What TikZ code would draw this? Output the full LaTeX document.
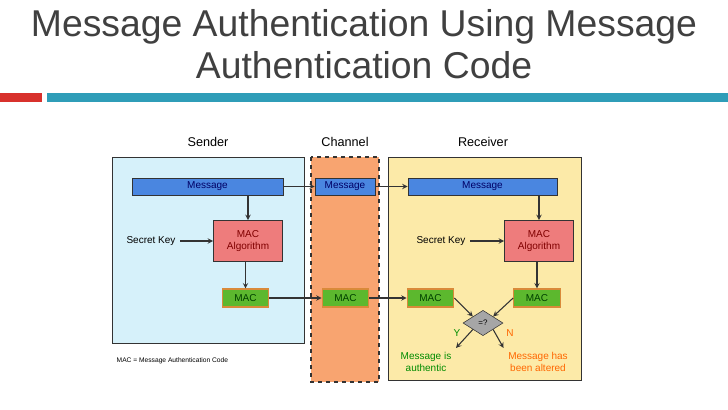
\documentclass[tikz,border=0pt]{standalone}
\usepackage{fontspec}
\setmainfont{Liberation Sans}
\usepackage{tikz}
\usetikzlibrary{shapes.geometric,arrows,positioning}
\definecolor{sendbg}{HTML}{D6F1FA}
\definecolor{chanbg}{HTML}{F8A470}
\definecolor{recvbg}{HTML}{FCEAA8}
\definecolor{msgblue}{HTML}{4A86E0}
\definecolor{macred}{HTML}{EE7C7C}
\definecolor{macgreen}{HTML}{5CB82E}
\definecolor{macedge}{HTML}{D98A3A}
\definecolor{titlegray}{HTML}{404040}
\definecolor{barteal}{HTML}{2F9DB8}
\definecolor{barred}{HTML}{D8312C}

\begin{document}
\begin{tikzpicture}[x=0.75pt,y=-0.75pt,>=stealth,
    lbl/.style={font=\fontsize{7.5}{8.5}\selectfont},
    msg/.style={draw=black!80, fill=msgblue, inner sep=0pt, font=\fontsize{7.5}{8.5}\selectfont, text=blue!40!black},
    algo/.style={draw=black!80, fill=macred, inner sep=0pt, align=center, font=\fontsize{7.5}{8.5}\selectfont, text=red!50!black},
    mac/.style={draw=macedge, thick, fill=macgreen, inner sep=0pt, minimum width=35pt, minimum height=13.5pt, font=\fontsize{7.5}{8.5}\selectfont, text=green!25!black},
    flow/.style={->, thick, black!80}]
    \useasboundingbox (0,0) rectangle (728,410);

    % title
    \node[text=titlegray, align=center, font=\fontsize{28}{32}\selectfont] (title) at (364,44) {Message Authentication Using Message\\Authentication Code};
    \fill[barred] (0,93) rectangle (42,102);
    \fill[barteal] (47,93) rectangle (728,102);

    % areas
    \draw[black!80, fill=sendbg] (112,157) rectangle (304,343);
    \draw[black!80, fill=chanbg, dashed, thick] (311,157) rectangle (379,382);
    \draw[black!80, fill=recvbg] (388,157) rectangle (581,380);
    \node[font=\fontsize{9.5}{10}\selectfont] (sender) at (208,142) {Sender};
    \node[font=\fontsize{9.5}{10}\selectfont] (channel) at (345,142) {Channel};
    \node[font=\fontsize{9.5}{10}\selectfont] (receiver) at (483,142) {Receiver};

    % sender
    \node[msg, minimum width=113pt, minimum height=13pt] (m1) at (207.5,186.5) {Message};
    \node[algo, minimum width=52pt, minimum height=31pt] (a1) at (248,241) {MAC\\Algorithm};
    \node[lbl] (k1) at (151,241) {Secret Key};
    \node[mac] (c1) at (245.5,298) {MAC};

    % channel
    \node[msg, minimum width=45pt, minimum height=13pt] (m2) at (345,186.5) {Message};
    \node[mac] (c2) at (345.5,298) {MAC};

    % receiver
    \node[msg, minimum width=112pt, minimum height=13pt] (m3) at (482.5,186.5) {Message};
    \node[algo, minimum width=52pt, minimum height=31pt] (a3) at (539,241) {MAC\\Algorithm};
    \node[lbl] (k3) at (441,241) {Secret Key};
    \node[mac] (c3) at (430.5,298) {MAC};
    \node[mac] (c4) at (537,298) {MAC};
    \node[diamond, draw=black!80, fill=black!35, inner sep=0pt, minimum width=30pt, minimum height=19pt, font=\fontsize{6}{7}\selectfont] (cmp) at (483,323) {=?};
    \node[lbl, text=green!55!black, align=center] (ok) at (426,362) {Message is\\authentic};
    \node[lbl, text=orange!80!red, align=center] (bad) at (538,362) {Message has\\been altered};
    \node[lbl, text=green!55!black] (yes) at (457,333) {Y};
    \node[lbl, text=orange!80!red] (no) at (510,333) {N};

    \node[font=\fontsize{5}{6}\selectfont, anchor=west] (note) at (112,361) {MAC = Message Authentication Code};

    \draw[flow] (m1) -- (a1.north |- m1.south) -- (a1);
    \draw[flow] (k1) -- (a1);
    \draw[flow] (a1.south -| c1) -- (c1);
    \draw[flow] (m1) -- (m2);
    \draw[flow] (m2) -- (m3);
    \draw[flow] (c1) -- (c2);
    \draw[flow] (c2) -- (c3);
    \draw[flow] (m3.south -| a3) -- (a3);
    \draw[flow] (k3) -- (a3);
    \draw[flow] (a3.south -| c4) -- (c4);
    \draw[flow] (c3.east) -- (cmp.north west);
    \draw[flow] (c4.west) -- (cmp.north east);
    \draw[flow] (cmp.south west) -- (ok.north east);
    \draw[flow] (cmp.south east) -- (bad.north west);
\end{tikzpicture}
\end{document}
